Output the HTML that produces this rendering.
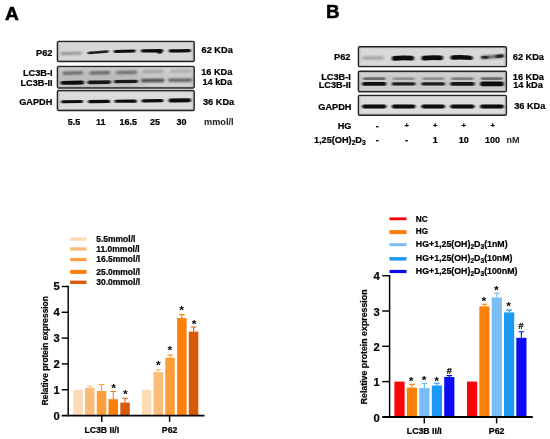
<!DOCTYPE html>
<html><head><meta charset="utf-8"><title>Figure</title>
<style>html,body{margin:0;padding:0;background:#fff;}body{width:550px;height:439px;overflow:hidden;font-family:"Liberation Sans",Arial,sans-serif;}svg{display:block}text{stroke:#000;stroke-width:.22px}</style>
</head><body>
<svg width="550" height="439" viewBox="0 0 550 439" font-family="Liberation Sans, Arial, sans-serif">
<defs>
<filter id="b1" filterUnits="userSpaceOnUse" x="0" y="30" width="550" height="100"><feGaussianBlur stdDeviation="0.8 0.6"/></filter>
<filter id="b15" filterUnits="userSpaceOnUse" x="0" y="30" width="550" height="100"><feGaussianBlur stdDeviation="1.1 0.8"/></filter>
<filter id="b2" filterUnits="userSpaceOnUse" x="0" y="30" width="550" height="100"><feGaussianBlur stdDeviation="1.4 1.0"/></filter>
<filter id="b3" filterUnits="userSpaceOnUse" x="0" y="30" width="550" height="100"><feGaussianBlur stdDeviation="4 3"/></filter>
</defs>
<rect width="550" height="439" fill="#fff"/>
<text x="5.0" y="19.5" font-size="19.2" font-weight="bold" text-anchor="start" fill="#000" style="stroke-width:.55px">A</text>
<clipPath id="c1"><rect x="57.4" y="41.4" width="136.79999999999998" height="20.1" rx="1"/></clipPath>
<rect x="57.4" y="41.4" width="136.79999999999998" height="20.1" rx="1" fill="#d7d7d7"/>
<g clip-path="url(#c1)">
<path d="M61.6 53.7Q71.0 53.5 80.4 53.2" stroke="#0a0a0a" stroke-width="2.2" stroke-linecap="round" fill="none" opacity="0.42" filter="url(#b15)"/>
<path d="M88.8 53.0Q98.2 52.2 107.5 51.4" stroke="#0a0a0a" stroke-width="2.5" stroke-linecap="round" fill="none" opacity="0.92" filter="url(#b1)"/>
<path d="M115.3 51.4Q124.7 51.1 134.1 50.9" stroke="#0a0a0a" stroke-width="3.0" stroke-linecap="round" fill="none" opacity="1" filter="url(#b1)"/>
<path d="M142.7 50.9Q152.0 50.8 161.3 50.7" stroke="#0a0a0a" stroke-width="3.4" stroke-linecap="round" fill="none" opacity="1" filter="url(#b1)"/>
<circle cx="159.7" cy="51.7" r="2.2" fill="#0a0a0a" filter="url(#b1)"/>
<path d="M170.3 50.9Q179.8 50.8 189.4 50.6" stroke="#0a0a0a" stroke-width="3.2" stroke-linecap="round" fill="none" opacity="1" filter="url(#b1)"/>
<rect x="57.4" y="41.4" width="136.79999999999998" height="20.1" rx="1" fill="none" stroke="#000" stroke-width="3.2" opacity="0.13" filter="url(#b1)"/>
</g>
<rect x="57.4" y="41.4" width="136.79999999999998" height="20.1" rx="1.2" fill="none" stroke="#262626" stroke-width="1.4"/>
<clipPath id="c2"><rect x="57.4" y="66.4" width="136.79999999999998" height="21.599999999999994" rx="1"/></clipPath>
<rect x="57.4" y="66.4" width="136.79999999999998" height="21.599999999999994" rx="1" fill="#d5d5d5"/>
<g clip-path="url(#c2)">
<rect x="57" y="69" width="83" height="17" fill="#000" opacity="0.12" filter="url(#b3)"/>
<rect x="140" y="69" width="55" height="15" fill="#000" opacity="0.05" filter="url(#b3)"/>
<path d="M63.8 73.2Q72.8 73.0 81.7 72.8" stroke="#0a0a0a" stroke-width="2.6" stroke-linecap="round" fill="none" opacity="0.6" filter="url(#b15)"/>
<path d="M90.8 73.0Q99.8 72.8 108.7 72.6" stroke="#0a0a0a" stroke-width="2.6" stroke-linecap="round" fill="none" opacity="0.6" filter="url(#b15)"/>
<path d="M117.3 72.5Q126.5 72.3 135.7 72.1" stroke="#0a0a0a" stroke-width="2.6" stroke-linecap="round" fill="none" opacity="0.55" filter="url(#b15)"/>
<path d="M144.3 71.6Q153.2 71.4 162.2 71.2" stroke="#0a0a0a" stroke-width="2.6" stroke-linecap="round" fill="none" opacity="0.25" filter="url(#b15)"/>
<path d="M171.3 71.3Q180.6 71.1 189.9 70.9" stroke="#0a0a0a" stroke-width="2.6" stroke-linecap="round" fill="none" opacity="0.18" filter="url(#b15)"/>
<path d="M62.4 82.8Q72.2 82.7 82.1 82.5" stroke="#0a0a0a" stroke-width="3.8" stroke-linecap="round" fill="none" opacity="1" filter="url(#b1)"/>
<path d="M89.3 82.4Q99.2 82.2 109.2 82.1" stroke="#0a0a0a" stroke-width="3.6" stroke-linecap="round" fill="none" opacity="0.95" filter="url(#b1)"/>
<path d="M115.6 81.6Q126.0 81.4 136.4 81.3" stroke="#0a0a0a" stroke-width="3.2" stroke-linecap="round" fill="none" opacity="0.92" filter="url(#b1)"/>
<path d="M142.6 80.6Q152.8 80.4 162.9 80.3" stroke="#0a0a0a" stroke-width="3.2" stroke-linecap="round" fill="none" opacity="0.72" filter="url(#b15)"/>
<path d="M169.5 80.3Q180.1 80.2 190.7 80.0" stroke="#0a0a0a" stroke-width="3.0" stroke-linecap="round" fill="none" opacity="0.62" filter="url(#b15)"/>
<rect x="57.4" y="66.4" width="136.79999999999998" height="21.599999999999994" rx="1" fill="none" stroke="#000" stroke-width="3.2" opacity="0.13" filter="url(#b1)"/>
</g>
<rect x="57.4" y="66.4" width="136.79999999999998" height="21.599999999999994" rx="1.2" fill="none" stroke="#262626" stroke-width="1.4"/>
<clipPath id="c3"><rect x="57.4" y="90.5" width="136.79999999999998" height="20.0" rx="1"/></clipPath>
<rect x="57.4" y="90.5" width="136.79999999999998" height="20.0" rx="1" fill="#dbdbdb"/>
<g clip-path="url(#c3)">
<path d="M62.5 101.7Q72.0 101.6 81.5 101.5" stroke="#0a0a0a" stroke-width="3.1" stroke-linecap="round" fill="none" opacity="1" filter="url(#b1)"/>
<path d="M89.5 101.6Q99.0 101.5 108.5 101.4" stroke="#0a0a0a" stroke-width="3.1" stroke-linecap="round" fill="none" opacity="1" filter="url(#b1)"/>
<path d="M116.0 101.3Q125.8 101.2 135.4 101.1" stroke="#0a0a0a" stroke-width="3.1" stroke-linecap="round" fill="none" opacity="1" filter="url(#b1)"/>
<path d="M143.2 100.9Q152.5 100.8 161.8 100.7" stroke="#0a0a0a" stroke-width="3.3" stroke-linecap="round" fill="none" opacity="1" filter="url(#b1)"/>
<path d="M170.5 100.4Q179.8 100.3 189.2 100.2" stroke="#0a0a0a" stroke-width="4.0" stroke-linecap="round" fill="none" opacity="1" filter="url(#b1)"/>
<rect x="57.4" y="90.5" width="136.79999999999998" height="20.0" rx="1" fill="none" stroke="#000" stroke-width="3.2" opacity="0.13" filter="url(#b1)"/>
</g>
<rect x="57.4" y="90.5" width="136.79999999999998" height="20.0" rx="1.2" fill="none" stroke="#262626" stroke-width="1.4"/>
<text x="52.4" y="55.6" font-size="9.2" font-weight="bold" text-anchor="end" fill="#000" >P62</text>
<text x="52.6" y="76" font-size="9.2" font-weight="bold" text-anchor="end" fill="#000" >LC3B-I</text>
<text x="52.6" y="86" font-size="9.2" font-weight="bold" text-anchor="end" fill="#000" >LC3B-II</text>
<text x="52.4" y="105.3" font-size="9.2" font-weight="bold" text-anchor="end" fill="#000" >GAPDH</text>
<text x="201.6" y="52.8" font-size="9.2" font-weight="bold" text-anchor="start" fill="#000" >62 KDa</text>
<text x="201.2" y="74.9" font-size="9.2" font-weight="bold" text-anchor="start" fill="#000" >16 KDa</text>
<text x="202.4" y="85.4" font-size="9.2" font-weight="bold" text-anchor="start" fill="#000" >14 kDa</text>
<text x="203" y="104.5" font-size="9.2" font-weight="bold" text-anchor="start" fill="#000" >36 KDa</text>
<text x="74.1" y="124.5" font-size="9" font-weight="bold" text-anchor="middle" fill="#000" >5.5</text>
<text x="100.7" y="124.5" font-size="9" font-weight="bold" text-anchor="middle" fill="#000" >11</text>
<text x="128.2" y="124.5" font-size="9" font-weight="bold" text-anchor="middle" fill="#000" >16.5</text>
<text x="155" y="124.5" font-size="9" font-weight="bold" text-anchor="middle" fill="#000" >25</text>
<text x="181.5" y="124.5" font-size="9" font-weight="bold" text-anchor="middle" fill="#000" >30</text>
<text x="204" y="124.6" font-size="9.2" font-weight="bold" text-anchor="start" fill="#1a1a1a" style="stroke:none">mmol/l</text>
<text x="325.9" y="18.2" font-size="18.8" font-weight="bold" text-anchor="start" fill="#000" style="stroke-width:.55px">B</text>
<clipPath id="c4"><rect x="358.4" y="46.7" width="148.0" height="19.89999999999999" rx="1"/></clipPath>
<rect x="358.4" y="46.7" width="148.0" height="19.89999999999999" rx="1" fill="#d9d9d9"/>
<g clip-path="url(#c4)">
<path d="M363.6 57.9Q373.0 57.9 382.4 57.9" stroke="#0a0a0a" stroke-width="3.2" stroke-linecap="round" fill="none" opacity="0.28" filter="url(#b2)"/>
<path d="M394.2 58.4Q403.0 57.4 411.8 58.2" stroke="#0a0a0a" stroke-width="4.8" stroke-linecap="round" fill="none" opacity="1" filter="url(#b1)"/>
<path d="M423.8 58.2Q432.3 57.1 440.8 57.8" stroke="#0a0a0a" stroke-width="4.8" stroke-linecap="round" fill="none" opacity="1" filter="url(#b1)"/>
<path d="M452.6 57.5Q461.6 56.8 470.6 57.9" stroke="#0a0a0a" stroke-width="4.4" stroke-linecap="round" fill="none" opacity="1" filter="url(#b1)"/>
<path d="M482.6 57.4Q492.3 56.8 502.0 56.2" stroke="#0a0a0a" stroke-width="3.2" stroke-linecap="round" fill="none" opacity="0.6" filter="url(#b2)"/>
<path d="M482.9 57.4Q485.0 57.4 487.1 57.4" stroke="#0a0a0a" stroke-width="2.8" stroke-linecap="round" fill="none" opacity="0.8" filter="url(#b1)"/>
<path d="M497.1 56.3Q499.6 56.0 502.2 55.8" stroke="#0a0a0a" stroke-width="3.2" stroke-linecap="round" fill="none" opacity="0.8" filter="url(#b1)"/>
<rect x="358.4" y="46.7" width="148.0" height="19.89999999999999" rx="1" fill="none" stroke="#000" stroke-width="3.2" opacity="0.13" filter="url(#b1)"/>
</g>
<rect x="358.4" y="46.7" width="148.0" height="19.89999999999999" rx="1.2" fill="none" stroke="#262626" stroke-width="1.4"/>
<clipPath id="c5"><rect x="358.4" y="71.3" width="148.0" height="20.5" rx="1"/></clipPath>
<rect x="358.4" y="71.3" width="148.0" height="20.5" rx="1" fill="#d6d6d6"/>
<g clip-path="url(#c5)">
<rect x="358" y="75" width="149" height="14" fill="#000" opacity="0.07" filter="url(#b3)"/>
<path d="M364.3 78.6Q374.2 78.6 384.1 78.6" stroke="#0a0a0a" stroke-width="2.6" stroke-linecap="round" fill="none" opacity="0.5" filter="url(#b1)"/>
<path d="M394.1 78.6Q403.6 78.6 413.2 78.6" stroke="#0a0a0a" stroke-width="2.6" stroke-linecap="round" fill="none" opacity="0.28" filter="url(#b1)"/>
<path d="M423.7 78.6Q433.2 78.6 442.7 78.6" stroke="#0a0a0a" stroke-width="2.6" stroke-linecap="round" fill="none" opacity="0.28" filter="url(#b1)"/>
<path d="M452.5 78.6Q462.4 78.6 472.3 78.6" stroke="#0a0a0a" stroke-width="2.6" stroke-linecap="round" fill="none" opacity="0.38" filter="url(#b1)"/>
<path d="M482.3 78.6Q491.9 78.6 501.5 78.6" stroke="#0a0a0a" stroke-width="2.6" stroke-linecap="round" fill="none" opacity="0.5" filter="url(#b1)"/>
<path d="M363.9 83.9Q374.2 83.9 384.5 83.9" stroke="#0a0a0a" stroke-width="3.7" stroke-linecap="round" fill="none" opacity="1" filter="url(#b1)"/>
<path d="M393.4 83.9Q403.6 83.9 413.9 83.9" stroke="#0a0a0a" stroke-width="3.3" stroke-linecap="round" fill="none" opacity="0.9" filter="url(#b1)"/>
<path d="M423.0 83.9Q433.2 83.9 443.4 83.9" stroke="#0a0a0a" stroke-width="3.3" stroke-linecap="round" fill="none" opacity="0.9" filter="url(#b1)"/>
<path d="M452.1 83.9Q462.4 83.9 472.8 83.9" stroke="#0a0a0a" stroke-width="3.7" stroke-linecap="round" fill="none" opacity="0.95" filter="url(#b1)"/>
<path d="M482.3 83.9Q491.9 83.9 501.5 83.9" stroke="#0a0a0a" stroke-width="4.6" stroke-linecap="round" fill="none" opacity="1" filter="url(#b1)"/>
<rect x="358.4" y="71.3" width="148.0" height="20.5" rx="1" fill="none" stroke="#000" stroke-width="3.2" opacity="0.13" filter="url(#b1)"/>
</g>
<rect x="358.4" y="71.3" width="148.0" height="20.5" rx="1.2" fill="none" stroke="#262626" stroke-width="1.4"/>
<clipPath id="c6"><rect x="358.4" y="95.4" width="148.0" height="19.799999999999997" rx="1"/></clipPath>
<rect x="358.4" y="95.4" width="148.0" height="19.799999999999997" rx="1" fill="#dddddd"/>
<g clip-path="url(#c6)">
<path d="M364.0 106.6Q374.2 106.6 384.4 106.6" stroke="#0a0a0a" stroke-width="4.0" stroke-linecap="round" fill="none" opacity="1" filter="url(#b1)"/>
<path d="M393.8 106.6Q403.6 106.6 413.5 106.6" stroke="#0a0a0a" stroke-width="4.0" stroke-linecap="round" fill="none" opacity="1" filter="url(#b1)"/>
<path d="M423.4 106.6Q433.2 106.6 443.0 106.6" stroke="#0a0a0a" stroke-width="4.0" stroke-linecap="round" fill="none" opacity="1" filter="url(#b1)"/>
<path d="M452.2 106.6Q462.4 106.6 472.6 106.6" stroke="#0a0a0a" stroke-width="4.0" stroke-linecap="round" fill="none" opacity="1" filter="url(#b1)"/>
<path d="M482.0 106.6Q491.9 106.6 501.8 106.6" stroke="#0a0a0a" stroke-width="4.0" stroke-linecap="round" fill="none" opacity="1" filter="url(#b1)"/>
<rect x="358.4" y="95.4" width="148.0" height="19.799999999999997" rx="1" fill="none" stroke="#000" stroke-width="3.2" opacity="0.13" filter="url(#b1)"/>
</g>
<rect x="358.4" y="95.4" width="148.0" height="19.799999999999997" rx="1.2" fill="none" stroke="#262626" stroke-width="1.4"/>
<text x="350.4" y="60" font-size="9.2" font-weight="bold" text-anchor="end" fill="#000" >P62</text>
<text x="350.8" y="80.1" font-size="9.2" font-weight="bold" text-anchor="end" fill="#000" >LC3B-I</text>
<text x="350.8" y="88.2" font-size="9.2" font-weight="bold" text-anchor="end" fill="#000" >LC3B-II</text>
<text x="351.5" y="109.7" font-size="9.2" font-weight="bold" text-anchor="end" fill="#000" >GAPDH</text>
<text x="512.8" y="59.7" font-size="9.2" font-weight="bold" text-anchor="start" fill="#000" >62 KDa</text>
<text x="512.8" y="80.1" font-size="9.2" font-weight="bold" text-anchor="start" fill="#000" >16 KDa</text>
<text x="513.2" y="88.4" font-size="9.2" font-weight="bold" text-anchor="start" fill="#000" >14 kDa</text>
<text x="514.2" y="108.8" font-size="9.2" font-weight="bold" text-anchor="start" fill="#000" >36 KDa</text>
<text x="351.5" y="129" font-size="9.2" font-weight="bold" text-anchor="end" fill="#000" >HG</text>
<text x="377.3" y="129" font-size="9" font-weight="bold" text-anchor="middle" fill="#000" >-</text>
<text x="406.6" y="128" font-size="7.5" font-weight="bold" text-anchor="middle" fill="#000" >+</text>
<text x="435.3" y="128" font-size="7.5" font-weight="bold" text-anchor="middle" fill="#000" >+</text>
<text x="463.8" y="128" font-size="7.5" font-weight="bold" text-anchor="middle" fill="#000" >+</text>
<text x="492.6" y="128" font-size="7.5" font-weight="bold" text-anchor="middle" fill="#000" >+</text>
<text x="313.9" y="143" font-size="9.2" font-weight="bold" fill="#000">1,25(OH)<tspan font-size="6.6" dy="2">2</tspan><tspan dy="-2">D</tspan><tspan font-size="6.6" dy="2">3</tspan></text>
<text x="377.3" y="143" font-size="9" font-weight="bold" text-anchor="middle" fill="#000" >-</text>
<text x="406.6" y="143" font-size="9" font-weight="bold" text-anchor="middle" fill="#000" >-</text>
<text x="435.3" y="143" font-size="9" font-weight="bold" text-anchor="middle" fill="#000" >1</text>
<text x="463.8" y="143" font-size="9" font-weight="bold" text-anchor="middle" fill="#000" >10</text>
<text x="492.6" y="143" font-size="9" font-weight="bold" text-anchor="middle" fill="#000" >100</text>
<text x="506.6" y="143" font-size="9" font-weight="bold" text-anchor="start" fill="#222" style="stroke:none">nM</text>
<rect x="73.3" y="389.7" width="9.5" height="25.8" fill="#fddcb5"/>
<rect x="85.0" y="387.9" width="9.5" height="27.6" fill="#fdbb78"/>
<path d="M89.8 387.9V386.3M87.0 386.3H92.6" stroke="#fdbb78" stroke-width="1.1" fill="none"/>
<rect x="96.8" y="391.0" width="9.5" height="24.5" fill="#fd9d39"/>
<path d="M101.5 391.0V384.5M98.8 384.5H104.3" stroke="#fd9d39" stroke-width="1.1" fill="none"/>
<rect x="108.5" y="399.2" width="9.5" height="16.3" fill="#fb7f09"/>
<path d="M113.3 399.2V391.5M110.5 391.5H116.1" stroke="#fb7f09" stroke-width="1.1" fill="none"/>
<rect x="120.3" y="402.6" width="9.5" height="12.9" fill="#d95a06"/>
<path d="M125.0 402.6V398.2M122.2 398.2H127.8" stroke="#d95a06" stroke-width="1.1" fill="none"/>
<rect x="141.8" y="389.7" width="9.5" height="25.8" fill="#fddcb5"/>
<rect x="153.6" y="372.2" width="9.5" height="43.3" fill="#fdbb78"/>
<path d="M158.3 372.2V369.8M155.5 369.8H161.1" stroke="#fdbb78" stroke-width="1.1" fill="none"/>
<rect x="165.3" y="357.7" width="9.5" height="57.8" fill="#fd9d39"/>
<path d="M170.1 357.7V355.1M167.2 355.1H172.9" stroke="#fd9d39" stroke-width="1.1" fill="none"/>
<rect x="177.1" y="318.0" width="9.5" height="97.5" fill="#fb7f09"/>
<path d="M181.8 318.0V314.6M179.0 314.6H184.6" stroke="#fb7f09" stroke-width="1.1" fill="none"/>
<rect x="188.8" y="331.6" width="9.5" height="83.9" fill="#d95a06"/>
<path d="M193.6 331.6V327.0M190.8 327.0H196.4" stroke="#d95a06" stroke-width="1.1" fill="none"/>
<text transform="translate(113.5,386.0) scale(1,0.86)" y="6.4" font-size="12.2" font-weight="bold" text-anchor="middle" style="stroke:none">*</text>
<text transform="translate(125.3,392.1) scale(1,0.86)" y="6.4" font-size="12.2" font-weight="bold" text-anchor="middle" style="stroke:none">*</text>
<text transform="translate(158.3,363.2) scale(1,0.86)" y="6.4" font-size="12.2" font-weight="bold" text-anchor="middle" style="stroke:none">*</text>
<text transform="translate(169.9,348.7) scale(1,0.86)" y="6.4" font-size="12.2" font-weight="bold" text-anchor="middle" style="stroke:none">*</text>
<text transform="translate(181.6,308.2) scale(1,0.86)" y="6.4" font-size="12.2" font-weight="bold" text-anchor="middle" style="stroke:none">*</text>
<text transform="translate(194.0,322.1) scale(1,0.86)" y="6.4" font-size="12.2" font-weight="bold" text-anchor="middle" style="stroke:none">*</text>
<path d="M68.2 285.8V416.3" stroke="#000" stroke-width="1.45" fill="none"/>
<path d="M61.7 415.65H204.5" stroke="#000" stroke-width="1.65" fill="none"/>
<text x="59.800000000000004" y="419.6" font-size="11.2" font-weight="bold" text-anchor="end" fill="#000" >0</text>
<path d="M61.7 389.7H68.2" stroke="#000" stroke-width="1.45"/>
<text x="59.800000000000004" y="393.8" font-size="11.2" font-weight="bold" text-anchor="end" fill="#000" >1</text>
<path d="M61.7 363.9H68.2" stroke="#000" stroke-width="1.45"/>
<text x="59.800000000000004" y="368.0" font-size="11.2" font-weight="bold" text-anchor="end" fill="#000" >2</text>
<path d="M61.7 338.1H68.2" stroke="#000" stroke-width="1.45"/>
<text x="59.800000000000004" y="342.2" font-size="11.2" font-weight="bold" text-anchor="end" fill="#000" >3</text>
<path d="M61.7 312.3H68.2" stroke="#000" stroke-width="1.45"/>
<text x="59.800000000000004" y="316.4" font-size="11.2" font-weight="bold" text-anchor="end" fill="#000" >4</text>
<path d="M61.7 286.5H68.2" stroke="#000" stroke-width="1.45"/>
<text x="59.800000000000004" y="289.8" font-size="11.2" font-weight="bold" text-anchor="end" fill="#000" >5</text>
<path d="M101.8 415.5V421.9" stroke="#000" stroke-width="1.45"/>
<text x="101.8" y="432.8" font-size="8.7" font-weight="bold" text-anchor="middle" fill="#000" >LC3B II/I</text>
<path d="M169.6 415.5V421.9" stroke="#000" stroke-width="1.45"/>
<text x="169.6" y="432.8" font-size="8.7" font-weight="bold" text-anchor="middle" fill="#000" >P62</text>
<text transform="translate(47.8,350.7) rotate(-90)" font-size="8.35" font-weight="bold" text-anchor="middle">Relative protein expression</text>
<rect x="70.2" y="237.4" width="16.3" height="3.3" fill="#fddcb5"/>
<text x="96.2" y="241.9" font-size="8.5" font-weight="bold" text-anchor="start" fill="#000" >5.5mmol/l</text>
<rect x="70.2" y="247.3" width="16.3" height="3.3" fill="#fdbb78"/>
<text x="96.2" y="251.9" font-size="8.5" font-weight="bold" text-anchor="start" fill="#000" >11.0mmol/l</text>
<rect x="70.2" y="258.1" width="16.3" height="3.1" fill="#fd9d39"/>
<text x="96.2" y="262.3" font-size="8.5" font-weight="bold" text-anchor="start" fill="#000" >16.5mmol/l</text>
<rect x="70.2" y="269.9" width="16.3" height="4" fill="#fb7f09"/>
<text x="96.2" y="274.5" font-size="8.5" font-weight="bold" text-anchor="start" fill="#000" >25.0mmol/l</text>
<rect x="70.2" y="280.6" width="16.3" height="3.4" fill="#d95a06"/>
<text x="96.2" y="284.8" font-size="8.5" font-weight="bold" text-anchor="start" fill="#000" >30.0mmol/l</text>
<rect x="394.4" y="381.6" width="10.2" height="35.3" fill="#fb0207"/>
<rect x="406.8" y="387.6" width="10.2" height="29.3" fill="#fb8208"/>
<path d="M411.9 387.6V384.4M409.1 384.4H414.8" stroke="#fb8208" stroke-width="1.1" fill="none"/>
<rect x="419.3" y="388.0" width="10.2" height="28.9" fill="#7bbcf5"/>
<path d="M424.4 388.0V383.4M421.6 383.4H427.2" stroke="#7bbcf5" stroke-width="1.1" fill="none"/>
<rect x="431.8" y="385.5" width="10.2" height="31.4" fill="#1b9af3"/>
<path d="M436.9 385.5V383.2M434.1 383.2H439.7" stroke="#1b9af3" stroke-width="1.1" fill="none"/>
<rect x="444.2" y="377.0" width="10.2" height="39.9" fill="#0a0af5"/>
<path d="M449.3 377.0V375.6M446.5 375.6H452.1" stroke="#0a0af5" stroke-width="1.1" fill="none"/>
<rect x="467.0" y="381.6" width="10.2" height="35.3" fill="#fb0207"/>
<rect x="479.3" y="306.4" width="10.2" height="110.5" fill="#fb8208"/>
<path d="M484.4 306.4V304.3M481.6 304.3H487.2" stroke="#fb8208" stroke-width="1.1" fill="none"/>
<rect x="491.7" y="297.6" width="10.2" height="119.3" fill="#7bbcf5"/>
<path d="M496.8 297.6V293.4M494.0 293.4H499.6" stroke="#7bbcf5" stroke-width="1.1" fill="none"/>
<rect x="504.0" y="312.4" width="10.2" height="104.5" fill="#1b9af3"/>
<path d="M509.1 312.4V310.1M506.3 310.1H511.9" stroke="#1b9af3" stroke-width="1.1" fill="none"/>
<rect x="516.3" y="337.8" width="10.2" height="79.1" fill="#0a0af5"/>
<path d="M521.4 337.8V331.8M518.6 331.8H524.2" stroke="#0a0af5" stroke-width="1.1" fill="none"/>
<text transform="translate(411.2,379.8) scale(1,0.86)" y="6.4" font-size="12.2" font-weight="bold" text-anchor="middle" style="stroke:none">*</text>
<text transform="translate(424.2,378.2) scale(1,0.86)" y="6.4" font-size="12.2" font-weight="bold" text-anchor="middle" style="stroke:none">*</text>
<text transform="translate(436.6,379.1) scale(1,0.86)" y="6.4" font-size="12.2" font-weight="bold" text-anchor="middle" style="stroke:none">*</text>
<text transform="translate(483.8,299.8) scale(1,0.86)" y="6.4" font-size="12.2" font-weight="bold" text-anchor="middle" style="stroke:none">*</text>
<text transform="translate(496.3,288.7) scale(1,0.86)" y="6.4" font-size="12.2" font-weight="bold" text-anchor="middle" style="stroke:none">*</text>
<text transform="translate(508.6,304.2) scale(1,0.86)" y="6.4" font-size="12.2" font-weight="bold" text-anchor="middle" style="stroke:none">*</text>
<text x="449.3" y="373.6" font-size="9" font-weight="bold" text-anchor="middle" fill="#000" >#</text>
<text x="520.9" y="329.0" font-size="9" font-weight="bold" text-anchor="middle" fill="#000" >#</text>
<path d="M389.6 275.0V417.9" stroke="#000" stroke-width="1.45" fill="none"/>
<path d="M382.20000000000005 417.00H532.8" stroke="#000" stroke-width="1.9" fill="none"/>
<text x="379.8" y="421.5" font-size="11.2" font-weight="bold" text-anchor="end" fill="#000" >0</text>
<path d="M382.20000000000005 381.6H389.6" stroke="#000" stroke-width="1.45"/>
<text x="379.8" y="386.2" font-size="11.2" font-weight="bold" text-anchor="end" fill="#000" >1</text>
<path d="M382.20000000000005 346.3H389.6" stroke="#000" stroke-width="1.45"/>
<text x="379.8" y="350.9" font-size="11.2" font-weight="bold" text-anchor="end" fill="#000" >2</text>
<path d="M382.20000000000005 311.0H389.6" stroke="#000" stroke-width="1.45"/>
<text x="379.8" y="315.6" font-size="11.2" font-weight="bold" text-anchor="end" fill="#000" >3</text>
<path d="M382.20000000000005 275.7H389.6" stroke="#000" stroke-width="1.45"/>
<text x="379.8" y="280.3" font-size="11.2" font-weight="bold" text-anchor="end" fill="#000" >4</text>
<path d="M424.3 416.9V423.4" stroke="#000" stroke-width="1.45"/>
<text x="424.3" y="433.7" font-size="8.75" font-weight="bold" text-anchor="middle" fill="#000" >LC3B II/I</text>
<path d="M496.6 416.9V423.4" stroke="#000" stroke-width="1.45"/>
<text x="496.6" y="433.7" font-size="8.75" font-weight="bold" text-anchor="middle" fill="#000" >P62</text>
<text transform="translate(367.4,346.9) rotate(-90)" font-size="8.8" font-weight="bold" text-anchor="middle">Relative protein expression</text>
<rect x="389.5" y="217.4" width="17" height="2.8" fill="#fb0207"/>
<text x="415.8" y="222" font-size="8.2" font-weight="bold" text-anchor="start" fill="#000" >NC</text>
<rect x="389.5" y="230.1" width="17" height="4" fill="#fb8208"/>
<text x="415.8" y="234.4" font-size="8.2" font-weight="bold" text-anchor="start" fill="#000" >HG</text>
<rect x="389.5" y="243.2" width="17" height="3" fill="#7bbcf5"/>
<text x="415.8" y="247.3" font-size="8.82" font-weight="bold" text-anchor="start" fill="#000" >HG+1,25(OH)<tspan font-size="6.6" dy="1.8">2</tspan><tspan dy="-1.8">D</tspan><tspan font-size="6.6" dy="1.8">3</tspan><tspan dy="-1.8">(1nM)</tspan></text>
<rect x="389.5" y="257.1" width="17" height="3.5" fill="#1b9af3"/>
<text x="415.8" y="261.4" font-size="8.82" font-weight="bold" text-anchor="start" fill="#000" >HG+1,25(OH)<tspan font-size="6.6" dy="1.8">2</tspan><tspan dy="-1.8">D</tspan><tspan font-size="6.6" dy="1.8">3</tspan><tspan dy="-1.8">(10nM)</tspan></text>
<rect x="389.5" y="269.9" width="17" height="3.2" fill="#0a0af5"/>
<text x="415.8" y="274.4" font-size="8.82" font-weight="bold" text-anchor="start" fill="#000" >HG+1,25(OH)<tspan font-size="6.6" dy="1.8">2</tspan><tspan dy="-1.8">D</tspan><tspan font-size="6.6" dy="1.8">3</tspan><tspan dy="-1.8">(100nM)</tspan></text>
</svg>
</body></html>
